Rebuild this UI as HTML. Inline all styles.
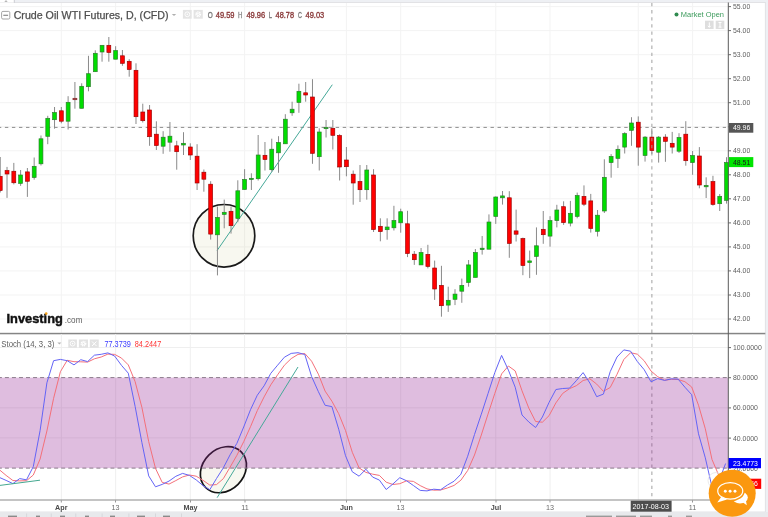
<!DOCTYPE html>
<html><head><meta charset="utf-8">
<style>
*{margin:0;padding:0;box-sizing:border-box}
html,body{width:768px;height:517px;overflow:hidden;background:#eef0f4}
body{position:relative;font-family:"Liberation Sans",sans-serif}
svg{position:absolute;left:0;top:0;will-change:transform}
.t{position:absolute;white-space:nowrap;line-height:1}
</style></head><body>
<svg width="768" height="517" viewBox="0 0 768 517">
<style>
text{font-family:"Liberation Sans",sans-serif}
.wk{stroke:#8a8a8a;stroke-width:1}
.cg{fill:#00dd00;stroke:#2a7a2a;stroke-width:0.65}
.cr{fill:#ff0000;stroke:#990000;stroke-width:0.65}
.cd{fill:#c03030;stroke:#803030;stroke-width:0.7}
.ax{font-family:"Liberation Sans",sans-serif;font-size:6.9px;fill:#5e5e5e}
</style>
<!-- backgrounds -->
<rect x="0" y="0" width="768" height="517" fill="#eef0f4"/>
<rect x="-2" y="2.5" width="767.3" height="509.5" fill="#ffffff" stroke="#dcdde0" stroke-width="0.8"/>
<rect x="0" y="0" width="14" height="2.5" fill="#ffffff"/>
<line x1="14.3" x2="14.3" y1="0" y2="2.8" stroke="#c8cacf" stroke-width="0.9"/><path d="M4.3 1.9 L7.7 1.9 L6 0 Z" fill="#b8b8b8"/>
<!-- grid -->
<g stroke="#f3f3f3" stroke-width="1"><line x1="0" x2="728" y1="319.0" y2="319.0"/><line x1="0" x2="728" y1="295.0" y2="295.0"/><line x1="0" x2="728" y1="270.9" y2="270.9"/><line x1="0" x2="728" y1="246.9" y2="246.9"/><line x1="0" x2="728" y1="222.9" y2="222.9"/><line x1="0" x2="728" y1="198.8" y2="198.8"/><line x1="0" x2="728" y1="174.8" y2="174.8"/><line x1="0" x2="728" y1="150.8" y2="150.8"/><line x1="0" x2="728" y1="126.8" y2="126.8"/><line x1="0" x2="728" y1="102.7" y2="102.7"/><line x1="0" x2="728" y1="78.7" y2="78.7"/><line x1="0" x2="728" y1="54.7" y2="54.7"/><line x1="0" x2="728" y1="30.6" y2="30.6"/><line x1="0" x2="728" y1="6.6" y2="6.6"/><line x1="61.33" x2="61.33" y1="3" y2="333"/><line x1="115.63" x2="115.63" y1="3" y2="333"/><line x1="190.3" x2="190.3" y1="3" y2="333"/><line x1="244.6" x2="244.6" y1="3" y2="333"/><line x1="346.41" x2="346.41" y1="3" y2="333"/><line x1="400.71" x2="400.71" y1="3" y2="333"/><line x1="495.74" x2="495.74" y1="3" y2="333"/><line x1="550.04" x2="550.04" y1="3" y2="333"/><line x1="638.28" x2="638.28" y1="3" y2="333"/><line x1="692.58" x2="692.58" y1="3" y2="333"/></g>
<!-- dashed price line -->
<line x1="0" x2="726" y1="127.4" y2="127.4" stroke="#8c8c8c" stroke-width="1" stroke-dasharray="3.4,3.638" stroke-dashoffset="2.14"/>
<!-- circle main -->
<ellipse cx="224" cy="235.8" rx="30.8" ry="31.3" fill="rgb(138,138,5)" fill-opacity="0.06" stroke="#1a1a1a" stroke-width="1.7"/>
<!-- trend line main -->
<line x1="217.1" y1="250.5" x2="332.3" y2="84.7" stroke="#45a898" stroke-width="1"/>
<line class="wk" x1="0.24" x2="0.24" y1="157" y2="192.5"/>
<line class="wk" x1="7.03" x2="7.03" y1="166.9" y2="197.9"/>
<line class="wk" x1="13.82" x2="13.82" y1="162.9" y2="184.4"/>
<line class="wk" x1="20.61" x2="20.61" y1="170" y2="185.9"/>
<line class="wk" x1="27.39" x2="27.39" y1="168" y2="196.9"/>
<line class="wk" x1="34.18" x2="34.18" y1="157.5" y2="179.7"/>
<line class="wk" x1="40.97" x2="40.97" y1="135.5" y2="165.5"/>
<line class="wk" x1="47.76" x2="47.76" y1="115.8" y2="144.2"/>
<line class="wk" x1="54.54" x2="54.54" y1="107" y2="128.7"/>
<line class="wk" x1="61.33" x2="61.33" y1="107" y2="123.3"/>
<line class="wk" x1="68.12" x2="68.12" y1="96.2" y2="129.5"/>
<line class="wk" x1="74.91" x2="74.91" y1="82" y2="108.7"/>
<line class="wk" x1="81.69" x2="81.69" y1="83.3" y2="108.3"/>
<line class="wk" x1="88.48" x2="88.48" y1="55.8" y2="91.3"/>
<line class="wk" x1="95.27" x2="95.27" y1="50.3" y2="71.7"/>
<line class="wk" x1="102.06" x2="102.06" y1="45.3" y2="61.7"/>
<line class="wk" x1="108.84" x2="108.84" y1="37" y2="61.7"/>
<line class="wk" x1="115.63" x2="115.63" y1="46.2" y2="59.2"/>
<line class="wk" x1="122.42" x2="122.42" y1="50" y2="65.8"/>
<line class="wk" x1="129.21" x2="129.21" y1="59.2" y2="76.7"/>
<line class="wk" x1="135.99" x2="135.99" y1="63.3" y2="124"/>
<line class="wk" x1="142.78" x2="142.78" y1="103.7" y2="122.5"/>
<line class="wk" x1="149.57" x2="149.57" y1="105" y2="145.8"/>
<line class="wk" x1="156.36" x2="156.36" y1="121.3" y2="150"/>
<line class="wk" x1="163.14" x2="163.14" y1="131.2" y2="153.8"/>
<line class="wk" x1="169.93" x2="169.93" y1="122" y2="151.7"/>
<line class="wk" x1="176.72" x2="176.72" y1="140.8" y2="169.7"/>
<line class="wk" x1="183.51" x2="183.51" y1="132.2" y2="155"/>
<line class="wk" x1="190.30" x2="190.30" y1="143.3" y2="160"/>
<line class="wk" x1="197.08" x2="197.08" y1="144.2" y2="190"/>
<line class="wk" x1="203.87" x2="203.87" y1="169.5" y2="191.7"/>
<line class="wk" x1="210.66" x2="210.66" y1="181.2" y2="239.6"/>
<line class="wk" x1="217.45" x2="217.45" y1="206.5" y2="275.4"/>
<line class="wk" x1="224.23" x2="224.23" y1="199.6" y2="228.3"/>
<line class="wk" x1="231.02" x2="231.02" y1="206.5" y2="233.6"/>
<line class="wk" x1="237.81" x2="237.81" y1="180.3" y2="222.2"/>
<line class="wk" x1="244.60" x2="244.60" y1="169.2" y2="189.5"/>
<line class="wk" x1="251.38" x2="251.38" y1="173.3" y2="190"/>
<line class="wk" x1="258.17" x2="258.17" y1="135" y2="180.5"/>
<line class="wk" x1="264.96" x2="264.96" y1="142" y2="170.5"/>
<line class="wk" x1="271.75" x2="271.75" y1="138.7" y2="171.7"/>
<line class="wk" x1="278.53" x2="278.53" y1="136.2" y2="172.8"/>
<line class="wk" x1="285.32" x2="285.32" y1="114.2" y2="143.8"/>
<line class="wk" x1="292.11" x2="292.11" y1="101.7" y2="115.8"/>
<line class="wk" x1="298.90" x2="298.90" y1="83.7" y2="112.8"/>
<line class="wk" x1="305.68" x2="305.68" y1="82" y2="101.7"/>
<line class="wk" x1="312.47" x2="312.47" y1="79.2" y2="163.8"/>
<line class="wk" x1="319.26" x2="319.26" y1="128.3" y2="170.5"/>
<line class="wk" x1="326.05" x2="326.05" y1="120" y2="137.5"/>
<line class="wk" x1="332.83" x2="332.83" y1="120" y2="149.5"/>
<line class="wk" x1="339.62" x2="339.62" y1="134.2" y2="180.5"/>
<line class="wk" x1="346.41" x2="346.41" y1="147" y2="176.3"/>
<line class="wk" x1="353.20" x2="353.20" y1="170.5" y2="204.7"/>
<line class="wk" x1="359.99" x2="359.99" y1="165" y2="202"/>
<line class="wk" x1="366.77" x2="366.77" y1="165" y2="199.7"/>
<line class="wk" x1="373.56" x2="373.56" y1="169.2" y2="232"/>
<line class="wk" x1="380.35" x2="380.35" y1="218.3" y2="241.3"/>
<line class="wk" x1="387.14" x2="387.14" y1="218.3" y2="239.7"/>
<line class="wk" x1="393.92" x2="393.92" y1="205.8" y2="230.5"/>
<line class="wk" x1="400.71" x2="400.71" y1="208.7" y2="232.7"/>
<line class="wk" x1="407.50" x2="407.50" y1="210.8" y2="257.1"/>
<line class="wk" x1="414.29" x2="414.29" y1="251" y2="264.9"/>
<line class="wk" x1="421.07" x2="421.07" y1="248" y2="264.9"/>
<line class="wk" x1="427.86" x2="427.86" y1="244.8" y2="268.4"/>
<line class="wk" x1="434.65" x2="434.65" y1="260.6" y2="299.9"/>
<line class="wk" x1="441.44" x2="441.44" y1="265.8" y2="316.7"/>
<line class="wk" x1="448.22" x2="448.22" y1="286.7" y2="311.9"/>
<line class="wk" x1="455.01" x2="455.01" y1="289.2" y2="305.1"/>
<line class="wk" x1="461.80" x2="461.80" y1="278.6" y2="302.8"/>
<line class="wk" x1="468.59" x2="468.59" y1="260" y2="286.7"/>
<line class="wk" x1="475.37" x2="475.37" y1="249" y2="277.4"/>
<line class="wk" x1="482.16" x2="482.16" y1="236" y2="254.6"/>
<line class="wk" x1="488.95" x2="488.95" y1="214.4" y2="249.2"/>
<line class="wk" x1="495.74" x2="495.74" y1="196.4" y2="223.9"/>
<line class="wk" x1="502.52" x2="502.52" y1="191" y2="204.6"/>
<line class="wk" x1="509.31" x2="509.31" y1="191.2" y2="257.8"/>
<line class="wk" x1="516.10" x2="516.10" y1="209.6" y2="241.5"/>
<line class="wk" x1="522.89" x2="522.89" y1="237.6" y2="275.2"/>
<line class="wk" x1="529.68" x2="529.68" y1="250.6" y2="278.1"/>
<line class="wk" x1="536.46" x2="536.46" y1="227.4" y2="274.8"/>
<line class="wk" x1="543.25" x2="543.25" y1="211" y2="243.8"/>
<line class="wk" x1="550.04" x2="550.04" y1="216.2" y2="246.7"/>
<line class="wk" x1="556.83" x2="556.83" y1="204.8" y2="227.4"/>
<line class="wk" x1="563.61" x2="563.61" y1="201.3" y2="224.9"/>
<line class="wk" x1="570.40" x2="570.40" y1="200.9" y2="226.4"/>
<line class="wk" x1="577.19" x2="577.19" y1="192.6" y2="218.3"/>
<line class="wk" x1="583.98" x2="583.98" y1="185.4" y2="206.1"/>
<line class="wk" x1="590.76" x2="590.76" y1="193.9" y2="232.6"/>
<line class="wk" x1="597.55" x2="597.55" y1="210" y2="236.5"/>
<line class="wk" x1="604.34" x2="604.34" y1="159.3" y2="213"/>
<line class="wk" x1="611.13" x2="611.13" y1="154.1" y2="177.7"/>
<line class="wk" x1="617.91" x2="617.91" y1="145.4" y2="168"/>
<line class="wk" x1="624.70" x2="624.70" y1="132.2" y2="153.5"/>
<line class="wk" x1="631.49" x2="631.49" y1="117.2" y2="145.8"/>
<line class="wk" x1="638.28" x2="638.28" y1="116.4" y2="165.7"/>
<line class="wk" x1="645.06" x2="645.06" y1="136.1" y2="161.6"/>
<line class="wk" x1="651.85" x2="651.85" y1="128.4" y2="154.1"/>
<line class="wk" x1="658.64" x2="658.64" y1="136.1" y2="162.6"/>
<line class="wk" x1="665.43" x2="665.43" y1="134.2" y2="161.8"/>
<line class="wk" x1="672.21" x2="672.21" y1="131.9" y2="153.5"/>
<line class="wk" x1="679.00" x2="679.00" y1="133.2" y2="152.9"/>
<line class="wk" x1="685.79" x2="685.79" y1="121.2" y2="165.7"/>
<line class="wk" x1="692.58" x2="692.58" y1="151" y2="174.8"/>
<line class="wk" x1="699.37" x2="699.37" y1="147.1" y2="188.3"/>
<line class="wk" x1="706.15" x2="706.15" y1="177.3" y2="198"/>
<line class="wk" x1="712.94" x2="712.94" y1="175.8" y2="205.7"/>
<line class="wk" x1="719.73" x2="719.73" y1="194" y2="211"/>
<line class="wk" x1="726.52" x2="726.52" y1="157.2" y2="203.6"/>
<rect class="cr" x="-1.71" y="176.3" width="3.9" height="14.30"/>
<rect class="cr" x="5.08" y="170.6" width="3.9" height="3.40"/>
<rect class="cr" x="11.87" y="171.25" width="3.9" height="11.50"/>
<rect class="cg" x="18.66" y="175" width="3.9" height="8.40"/>
<rect class="cr" x="25.44" y="171.9" width="3.9" height="9.35"/>
<rect class="cg" x="32.23" y="166.3" width="3.9" height="11.20"/>
<rect class="cg" x="39.02" y="138.8" width="3.9" height="25.00"/>
<rect class="cg" x="45.81" y="118.3" width="3.9" height="18.00"/>
<rect class="cg" x="52.59" y="112.5" width="3.9" height="7.20"/>
<rect class="cr" x="59.38" y="110.8" width="3.9" height="10.40"/>
<rect class="cg" x="66.17" y="102.3" width="3.9" height="18.90"/>
<rect class="cd" x="72.96" y="98.3" width="3.9" height="1.40"/>
<rect class="cg" x="79.74" y="86.3" width="3.9" height="22.00"/>
<rect class="cg" x="86.53" y="73.7" width="3.9" height="13.00"/>
<rect class="cg" x="93.32" y="53.3" width="3.9" height="18.40"/>
<rect class="cg" x="100.11" y="45.3" width="3.9" height="6.70"/>
<rect class="cr" x="106.89" y="45.3" width="3.9" height="7.20"/>
<rect class="cg" x="113.68" y="50.5" width="3.9" height="8.70"/>
<rect class="cr" x="120.47" y="55.8" width="3.9" height="7.50"/>
<rect class="cr" x="127.26" y="61.3" width="3.9" height="8.20"/>
<rect class="cr" x="134.04" y="70.3" width="3.9" height="46.40"/>
<rect class="cr" x="140.83" y="112" width="3.9" height="8.70"/>
<rect class="cr" x="147.62" y="110" width="3.9" height="26.70"/>
<rect class="cr" x="154.41" y="134.2" width="3.9" height="11.30"/>
<rect class="cg" x="161.19" y="137.2" width="3.9" height="9.00"/>
<rect class="cg" x="167.98" y="136.2" width="3.9" height="6.00"/>
<rect class="cr" x="174.77" y="145.8" width="3.9" height="5.90"/>
<rect class="cg" x="181.56" y="143.3" width="3.9" height="1.70"/>
<rect class="cr" x="188.35" y="147" width="3.9" height="8.00"/>
<rect class="cr" x="195.13" y="156.2" width="3.9" height="26.80"/>
<rect class="cr" x="201.92" y="172.2" width="3.9" height="7.00"/>
<rect class="cr" x="208.71" y="184.2" width="3.9" height="49.90"/>
<rect class="cg" x="215.50" y="217.4" width="3.9" height="17.40"/>
<rect class="cg" x="222.28" y="212.3" width="3.9" height="2.10"/>
<rect class="cr" x="229.07" y="211.3" width="3.9" height="14.40"/>
<rect class="cg" x="235.86" y="190.8" width="3.9" height="27.60"/>
<rect class="cg" x="242.65" y="179.4" width="3.9" height="10.10"/>
<rect class="cg" x="249.43" y="178.3" width="3.9" height="1.20"/>
<rect class="cg" x="256.22" y="155" width="3.9" height="23.70"/>
<rect class="cr" x="263.01" y="155.3" width="3.9" height="4.20"/>
<rect class="cg" x="269.80" y="149.2" width="3.9" height="20.50"/>
<rect class="cg" x="276.58" y="142.5" width="3.9" height="10.30"/>
<rect class="cg" x="283.37" y="119.2" width="3.9" height="24.60"/>
<rect class="cg" x="290.16" y="109.2" width="3.9" height="3.60"/>
<rect class="cg" x="296.95" y="91.3" width="3.9" height="11.20"/>
<rect class="cr" x="303.73" y="92.8" width="3.9" height="2.20"/>
<rect class="cr" x="310.52" y="97" width="3.9" height="56.30"/>
<rect class="cg" x="317.31" y="132" width="3.9" height="24.70"/>
<rect class="cg" x="324.10" y="127.5" width="3.9" height="1.20"/>
<rect class="cr" x="330.88" y="128.3" width="3.9" height="7.00"/>
<rect class="cr" x="337.67" y="135.5" width="3.9" height="31.50"/>
<rect class="cr" x="344.46" y="160" width="3.9" height="6.70"/>
<rect class="cr" x="351.25" y="174.2" width="3.9" height="8.80"/>
<rect class="cr" x="358.04" y="181.5" width="3.9" height="8.20"/>
<rect class="cg" x="364.82" y="170" width="3.9" height="19.70"/>
<rect class="cr" x="371.61" y="175" width="3.9" height="54.50"/>
<rect class="cr" x="378.40" y="226.3" width="3.9" height="5.30"/>
<rect class="cg" x="385.19" y="227" width="3.9" height="2.70"/>
<rect class="cg" x="391.97" y="220.5" width="3.9" height="7.30"/>
<rect class="cg" x="398.76" y="211.7" width="3.9" height="11.10"/>
<rect class="cr" x="405.55" y="223.8" width="3.9" height="29.70"/>
<rect class="cr" x="412.34" y="254.2" width="3.9" height="5.50"/>
<rect class="cg" x="419.12" y="252.5" width="3.9" height="12.40"/>
<rect class="cr" x="425.91" y="254.4" width="3.9" height="12.00"/>
<rect class="cr" x="432.70" y="268" width="3.9" height="21.00"/>
<rect class="cr" x="439.49" y="285.4" width="3.9" height="20.30"/>
<rect class="cg" x="446.27" y="300.3" width="3.9" height="4.80"/>
<rect class="cg" x="453.06" y="294.1" width="3.9" height="5.20"/>
<rect class="cg" x="459.85" y="285.4" width="3.9" height="5.80"/>
<rect class="cg" x="466.64" y="264.9" width="3.9" height="17.60"/>
<rect class="cg" x="473.42" y="252.5" width="3.9" height="24.90"/>
<rect class="cg" x="480.21" y="248.2" width="3.9" height="1.40"/>
<rect class="cg" x="487.00" y="222" width="3.9" height="27.20"/>
<rect class="cg" x="493.79" y="197" width="3.9" height="19.40"/>
<rect class="cg" x="500.57" y="195.9" width="3.9" height="1.90"/>
<rect class="cr" x="507.36" y="197.8" width="3.9" height="45.60"/>
<rect class="cr" x="514.15" y="230.9" width="3.9" height="3.30"/>
<rect class="cr" x="520.94" y="238.6" width="3.9" height="26.90"/>
<rect class="cg" x="527.73" y="260.9" width="3.9" height="1.70"/>
<rect class="cg" x="534.51" y="245.8" width="3.9" height="10.60"/>
<rect class="cr" x="541.30" y="229.3" width="3.9" height="5.40"/>
<rect class="cg" x="548.09" y="220.6" width="3.9" height="15.50"/>
<rect class="cg" x="554.88" y="210" width="3.9" height="10.60"/>
<rect class="cr" x="561.66" y="206.7" width="3.9" height="15.90"/>
<rect class="cg" x="568.45" y="213.3" width="3.9" height="9.80"/>
<rect class="cg" x="575.24" y="195.5" width="3.9" height="20.90"/>
<rect class="cr" x="582.03" y="196.4" width="3.9" height="7.80"/>
<rect class="cr" x="588.81" y="200.9" width="3.9" height="27.50"/>
<rect class="cg" x="595.60" y="215.2" width="3.9" height="16.10"/>
<rect class="cg" x="602.39" y="177.3" width="3.9" height="33.70"/>
<rect class="cg" x="609.18" y="156.4" width="3.9" height="6.20"/>
<rect class="cg" x="615.96" y="149.3" width="3.9" height="9.10"/>
<rect class="cg" x="622.75" y="133.6" width="3.9" height="13.50"/>
<rect class="cg" x="629.54" y="123" width="3.9" height="7.30"/>
<rect class="cr" x="636.33" y="122.2" width="3.9" height="24.90"/>
<rect class="cg" x="643.11" y="137.1" width="3.9" height="18.40"/>
<rect class="cr" x="649.90" y="137.1" width="3.9" height="13.50"/>
<rect class="cg" x="656.69" y="137.1" width="3.9" height="15.10"/>
<rect class="cr" x="663.48" y="137.1" width="3.9" height="4.20"/>
<rect class="cr" x="670.26" y="143.3" width="3.9" height="3.80"/>
<rect class="cg" x="677.05" y="137.5" width="3.9" height="13.70"/>
<rect class="cr" x="683.84" y="134.2" width="3.9" height="26.50"/>
<rect class="cg" x="690.63" y="155.5" width="3.9" height="7.10"/>
<rect class="cr" x="697.42" y="156" width="3.9" height="29.00"/>
<rect class="cg" x="704.20" y="185.4" width="3.9" height="1.40"/>
<rect class="cr" x="710.99" y="181.6" width="3.9" height="22.80"/>
<rect class="cg" x="717.78" y="196.3" width="3.9" height="7.40"/>
<rect class="cg" x="724.57" y="162.5" width="3.9" height="37.90"/>
<!-- crosshair vertical -->
<line x1="651.85" x2="651.85" y1="3" y2="500" stroke="#9c9c9c" stroke-opacity="0.8" stroke-width="1.2" stroke-dasharray="3.3,3.8"/>
<!-- separator -->
<rect x="0" y="332.8" width="765.3" height="1.5" fill="#858585"/>
<!-- stoch band -->
<g stroke="#efefef" stroke-width="1"><line x1="0" x2="728" y1="347.5" y2="347.5"/><line x1="0" x2="728" y1="407.8" y2="407.8"/><line x1="0" x2="728" y1="437.9" y2="437.9"/><line x1="61.33" x2="61.33" y1="334" y2="500"/><line x1="115.63" x2="115.63" y1="334" y2="500"/><line x1="190.3" x2="190.3" y1="334" y2="500"/><line x1="244.6" x2="244.6" y1="334" y2="500"/><line x1="346.41" x2="346.41" y1="334" y2="500"/><line x1="400.71" x2="400.71" y1="334" y2="500"/><line x1="495.74" x2="495.74" y1="334" y2="500"/><line x1="550.04" x2="550.04" y1="334" y2="500"/><line x1="638.28" x2="638.28" y1="334" y2="500"/><line x1="692.58" x2="692.58" y1="334" y2="500"/></g>
<ellipse cx="223.4" cy="469.7" rx="25.2" ry="20.7" transform="rotate(-45 223.4 469.7)" fill="rgb(138,138,5)" fill-opacity="0.06" stroke="#141414" stroke-width="1.7"/>
<rect x="0" y="377.6" width="728" height="90.5" fill="rgb(148,38,148)" fill-opacity="0.3"/>
<line x1="0" x2="728" y1="377.6" y2="377.6" stroke="#8a7a8a" stroke-width="1" stroke-dasharray="4,3.038" stroke-dashoffset="2.14"/>
<line x1="0" x2="728" y1="468.1" y2="468.1" stroke="#8a7a8a" stroke-width="1" stroke-dasharray="4,3.038" stroke-dashoffset="2.14"/>
<!-- ellipse stoch -->

<polyline points="-0.7,469.7 6.1,475.4 12.9,480.5 19.7,480.9 26.5,480.7 33.3,475.0 40.1,459.0 46.9,431.0 53.6,398.3 60.4,371.7 67.2,360.3 74.0,361.7 80.8,361.8 87.6,362.1 94.4,358.8 101.2,357.0 107.9,354.1 114.7,354.4 121.5,358.1 128.3,364.9 135.1,381.6 141.9,407.4 148.7,441.6 155.5,468.4 162.2,482.4 169.0,484.1 175.8,480.6 182.6,476.9 189.4,475.0 196.2,476.2 203.0,480.3 209.8,485.1 216.5,484.6 223.3,478.7 230.1,467.1 236.9,455.3 243.7,441.7 250.5,426.7 257.3,410.6 264.1,396.9 270.8,384.8 277.6,374.8 284.4,365.2 291.2,358.6 298.0,354.4 304.8,353.5 311.6,361.2 318.4,374.2 325.1,391.1 331.9,401.2 338.7,413.7 345.5,430.5 352.3,452.3 359.1,467.9 365.9,472.4 372.7,474.2 379.4,475.4 386.2,482.2 393.0,484.5 399.8,483.7 406.6,480.8 413.4,481.4 420.2,485.6 427.0,488.9 433.7,490.2 440.5,490.0 447.3,488.0 454.1,485.4 460.9,480.2 467.7,470.5 474.5,455.0 481.3,435.0 488.0,414.1 494.8,393.4 501.6,373.9 508.4,366.0 515.2,370.9 522.0,390.8 528.8,408.1 535.6,421.5 542.4,422.2 549.1,415.6 555.9,402.9 562.7,393.4 569.5,388.7 576.3,385.7 583.1,380.5 589.9,378.8 596.7,384.1 603.4,391.3 610.2,387.5 617.0,374.3 623.8,359.5 630.6,352.7 637.4,354.2 644.2,360.8 651.0,371.0 657.7,376.7 664.5,380.3 671.3,379.3 678.1,379.5 684.9,381.7 691.7,387.0 698.5,405.2 705.3,428.8 712.0,459.5 718.8,475.4 725.6,477.3" fill="none" stroke="#f4707a" stroke-width="1"/>
<polyline points="-0.7,477.4 6.1,480.4 12.9,483.6 19.7,478.6 26.5,479.8 33.3,466.6 40.1,430.5 46.9,382.8 53.6,360.7 60.4,359.4 67.2,360.7 74.0,364.9 80.8,359.7 87.6,361.6 94.4,355.2 101.2,354.3 107.9,352.9 114.7,356.1 121.5,365.4 128.3,373.2 135.1,406.3 141.9,442.6 148.7,475.9 155.5,486.8 162.2,484.4 169.0,481.1 175.8,476.3 182.6,473.4 189.4,475.4 196.2,479.9 203.0,485.6 209.8,489.7 216.5,478.5 223.3,467.9 230.1,454.8 236.9,443.3 243.7,427.0 250.5,409.7 257.3,395.2 264.1,385.8 270.8,373.3 277.6,365.2 284.4,357.2 291.2,353.4 298.0,352.7 304.8,354.5 311.6,376.5 318.4,391.7 325.1,405.3 331.9,406.6 338.7,429.2 345.5,455.7 352.3,471.8 359.1,476.2 365.9,469.2 372.7,477.1 379.4,480.1 386.2,489.5 393.0,483.9 399.8,477.7 406.6,480.8 413.4,485.5 420.2,490.4 427.0,490.9 433.7,489.2 440.5,489.8 447.3,485.1 454.1,481.2 460.9,474.2 467.7,456.2 474.5,434.5 481.3,414.2 488.0,393.6 494.8,372.6 501.6,355.4 508.4,370.1 515.2,387.2 522.0,415.0 528.8,422.0 535.6,427.5 542.4,417.0 549.1,402.3 555.9,389.5 562.7,388.5 569.5,388.1 576.3,380.7 583.1,372.6 589.9,383.1 596.7,396.7 603.4,394.1 610.2,371.7 617.0,357.0 623.8,349.9 630.6,351.2 637.4,361.6 644.2,369.7 651.0,381.8 657.7,378.6 664.5,380.4 671.3,378.9 678.1,379.1 684.9,387.2 691.7,394.7 698.5,433.8 705.3,457.8 712.0,487.0 718.8,481.5 725.6,463.5" fill="none" stroke="#6464f6" stroke-width="1"/>
<line x1="217.1" y1="497.7" x2="298" y2="367" stroke="#45a898" stroke-width="1"/>
<line x1="0" y1="485.4" x2="40" y2="480.2" stroke="#45a890" stroke-width="1"/>
<!-- axes -->
<line x1="728.3" x2="728.3" y1="2.5" y2="512" stroke="#5a5a5a" stroke-width="1"/>
<line x1="0" x2="728.3" y1="500" y2="500" stroke="#8a8a8a" stroke-width="1.2"/>
<line x1="728.3" x2="731" y1="319.0" y2="319.0" stroke="#5a5a5a" stroke-width="0.9"/>
<text class="ax" x="733" y="321.4">42.00</text>
<line x1="728.3" x2="731" y1="295.0" y2="295.0" stroke="#5a5a5a" stroke-width="0.9"/>
<text class="ax" x="733" y="297.4">43.00</text>
<line x1="728.3" x2="731" y1="270.9" y2="270.9" stroke="#5a5a5a" stroke-width="0.9"/>
<text class="ax" x="733" y="273.3">44.00</text>
<line x1="728.3" x2="731" y1="246.9" y2="246.9" stroke="#5a5a5a" stroke-width="0.9"/>
<text class="ax" x="733" y="249.3">45.00</text>
<line x1="728.3" x2="731" y1="222.9" y2="222.9" stroke="#5a5a5a" stroke-width="0.9"/>
<text class="ax" x="733" y="225.3">46.00</text>
<line x1="728.3" x2="731" y1="198.8" y2="198.8" stroke="#5a5a5a" stroke-width="0.9"/>
<text class="ax" x="733" y="201.2">47.00</text>
<line x1="728.3" x2="731" y1="174.8" y2="174.8" stroke="#5a5a5a" stroke-width="0.9"/>
<text class="ax" x="733" y="177.2">48.00</text>
<line x1="728.3" x2="731" y1="150.8" y2="150.8" stroke="#5a5a5a" stroke-width="0.9"/>
<text class="ax" x="733" y="153.2">49.00</text>
<line x1="728.3" x2="731" y1="126.8" y2="126.8" stroke="#5a5a5a" stroke-width="0.9"/>
<line x1="728.3" x2="731" y1="102.7" y2="102.7" stroke="#5a5a5a" stroke-width="0.9"/>
<text class="ax" x="733" y="105.1">51.00</text>
<line x1="728.3" x2="731" y1="78.7" y2="78.7" stroke="#5a5a5a" stroke-width="0.9"/>
<text class="ax" x="733" y="81.1">52.00</text>
<line x1="728.3" x2="731" y1="54.7" y2="54.7" stroke="#5a5a5a" stroke-width="0.9"/>
<text class="ax" x="733" y="57.1">53.00</text>
<line x1="728.3" x2="731" y1="30.6" y2="30.6" stroke="#5a5a5a" stroke-width="0.9"/>
<text class="ax" x="733" y="33.0">54.00</text>
<line x1="728.3" x2="731" y1="6.6" y2="6.6" stroke="#5a5a5a" stroke-width="0.9"/>
<text class="ax" x="733" y="9.0">55.00</text>
<line x1="728.3" x2="731" y1="347.6" y2="347.6" stroke="#5a5a5a" stroke-width="0.9"/>
<text class="ax" x="733" y="350.0">100.0000</text>
<line x1="728.3" x2="731" y1="377.7" y2="377.7" stroke="#5a5a5a" stroke-width="0.9"/>
<text class="ax" x="733" y="380.1">80.0000</text>
<line x1="728.3" x2="731" y1="407.9" y2="407.9" stroke="#5a5a5a" stroke-width="0.9"/>
<text class="ax" x="733" y="410.3">60.0000</text>
<line x1="728.3" x2="731" y1="438.1" y2="438.1" stroke="#5a5a5a" stroke-width="0.9"/>
<text class="ax" x="733" y="440.5">40.0000</text>
<line x1="728.3" x2="731" y1="468.2" y2="468.2" stroke="#5a5a5a" stroke-width="0.9"/>
<text class="ax" x="733" y="470.6">20.0000</text>
<line x1="61.3" x2="61.3" y1="500.3" y2="502.5" stroke="#8a8a8a" stroke-width="0.9"/>
<text x="61.3" y="509.6" text-anchor="middle" style="font-size:7.2px;font-weight:bold" fill="#4a4a4a">Apr</text>
<line x1="115.5" x2="115.5" y1="500.3" y2="502.5" stroke="#8a8a8a" stroke-width="0.9"/>
<text x="115.5" y="509.6" text-anchor="middle" style="font-size:7.2px;font-weight:normal" fill="#6a6a6a">13</text>
<line x1="190.5" x2="190.5" y1="500.3" y2="502.5" stroke="#8a8a8a" stroke-width="0.9"/>
<text x="190.5" y="509.6" text-anchor="middle" style="font-size:7.2px;font-weight:bold" fill="#4a4a4a">May</text>
<line x1="245" x2="245" y1="500.3" y2="502.5" stroke="#8a8a8a" stroke-width="0.9"/>
<text x="245" y="509.6" text-anchor="middle" style="font-size:7.2px;font-weight:normal" fill="#6a6a6a">11</text>
<line x1="346.5" x2="346.5" y1="500.3" y2="502.5" stroke="#8a8a8a" stroke-width="0.9"/>
<text x="346.5" y="509.6" text-anchor="middle" style="font-size:7.2px;font-weight:bold" fill="#4a4a4a">Jun</text>
<line x1="400.5" x2="400.5" y1="500.3" y2="502.5" stroke="#8a8a8a" stroke-width="0.9"/>
<text x="400.5" y="509.6" text-anchor="middle" style="font-size:7.2px;font-weight:normal" fill="#6a6a6a">13</text>
<line x1="496" x2="496" y1="500.3" y2="502.5" stroke="#8a8a8a" stroke-width="0.9"/>
<text x="496" y="509.6" text-anchor="middle" style="font-size:7.2px;font-weight:bold" fill="#4a4a4a">Jul</text>
<line x1="550" x2="550" y1="500.3" y2="502.5" stroke="#8a8a8a" stroke-width="0.9"/>
<text x="550" y="509.6" text-anchor="middle" style="font-size:7.2px;font-weight:normal" fill="#6a6a6a">13</text>
<line x1="692.5" x2="692.5" y1="500.3" y2="502.5" stroke="#8a8a8a" stroke-width="0.9"/>
<text x="692.5" y="509.6" text-anchor="middle" style="font-size:7.2px;font-weight:normal" fill="#6a6a6a">11</text>
<!-- price labels boxes -->
<rect x="729" y="123" width="24.3" height="9.7" fill="#555555"/>
<text x="733" y="130.4" style="font-size:6.9px" fill="#ffffff">49.96</text>
<rect x="729" y="157.1" width="24.3" height="10" fill="#00e400"/>
<text x="733" y="164.6" style="font-size:6.9px" fill="#1a1a1a">48.51</text>
<rect x="728.6" y="458" width="32.4" height="10.2" fill="#0000ff"/>
<text x="733" y="465.9" style="font-size:6.9px" fill="#ffffff">23.4773</text>
<rect x="729" y="478.7" width="32.2" height="10.2" fill="#ff0000"/>
<text x="733" y="486.2" style="font-size:6.9px" fill="#ffffff">13.6156</text>
<rect x="630.7" y="500.7" width="40.9" height="11" fill="#4d4d4d"/>
<text x="632.6" y="509.2" style="font-size:7.1px" fill="#ffffff" textLength="36.4" lengthAdjust="spacingAndGlyphs">2017-08-03</text>
<!-- bottom toolbar -->
<rect x="0" y="512" width="768" height="5" fill="#e8e9ec"/><rect x="26.3" y="513.5" width="0.8" height="3.5" fill="#d2d3d7"/><rect x="50.8" y="513.5" width="0.8" height="3.5" fill="#d2d3d7"/><rect x="75.4" y="513.5" width="0.8" height="3.5" fill="#d2d3d7"/><rect x="101.7" y="513.5" width="0.8" height="3.5" fill="#d2d3d7"/><rect x="128.5" y="513.5" width="0.8" height="3.5" fill="#d2d3d7"/><rect x="155.0" y="513.5" width="0.8" height="3.5" fill="#d2d3d7"/><rect x="181.0" y="513.5" width="0.8" height="3.5" fill="#d2d3d7"/><rect x="8" y="515.6" width="9.0" height="1.4" fill="#8a8a8a"/><rect x="36" y="515.6" width="4.0" height="1.4" fill="#8a8a8a"/><rect x="60" y="515.6" width="5.0" height="1.4" fill="#8a8a8a"/><rect x="85" y="515.6" width="4.0" height="1.4" fill="#8a8a8a"/><rect x="110" y="515.6" width="5.0" height="1.4" fill="#8a8a8a"/><rect x="137" y="515.6" width="8.0" height="1.4" fill="#8a8a8a"/><rect x="163" y="515.6" width="7.0" height="1.4" fill="#8a8a8a"/><rect x="586" y="515.6" width="26.0" height="1.4" fill="#9a9a9a"/><rect x="616" y="515.6" width="20.0" height="1.4" fill="#9a9a9a"/><rect x="640" y="515.6" width="12.0" height="1.4" fill="#9a9a9a"/><rect x="668" y="515.6" width="4.0" height="1.4" fill="#9a9a9a"/><rect x="686" y="515.6" width="6.0" height="1.4" fill="#9a9a9a"/>
<!-- chat button -->
<circle cx="716" cy="480.5" r="8" fill="none" stroke="#e4e4e4" stroke-width="0.8"/>
<circle cx="732.2" cy="493.3" r="23.5" fill="#fb980f"/>
<ellipse cx="740" cy="497.5" rx="7.8" ry="6" fill="#fff"/>
<path d="M741 501 L746.8 505.2 L745.5 498.5 Z" fill="#fff"/>
<ellipse cx="730.25" cy="490.9" rx="13.1" ry="8.9" fill="#fb980f" stroke="#fb980f" stroke-width="3"/>
<path d="M721.3 496.8 L717.3 502.6 L727 499.6 Z" fill="#fff"/>
<ellipse cx="730.25" cy="490.9" rx="12.5" ry="8.3" fill="#fb980f" stroke="#fff" stroke-width="1.2"/>
<circle cx="725.3" cy="491.3" r="1.45" fill="#fff"/><circle cx="730.1" cy="491.3" r="1.45" fill="#fff"/><circle cx="735.0" cy="491.3" r="1.45" fill="#fff"/>
<rect x="1.6" y="11.4" width="8.2" height="7.6" rx="1.3" fill="#fff" stroke="#9a9a9a" stroke-width="0.9"/><rect x="3.3" y="14.7" width="4.8" height="1.2" fill="#8a8a8a"/><text x="13.7" y="18.9" text-anchor="start" style="font-size:10.6px;stroke:#4f4f4f;stroke-width:0.25px;" fill="#4f4f4f" textLength="154.9" lengthAdjust="spacingAndGlyphs">Crude Oil WTI Futures, D, (CFD)</text><path d="M171.8 13.9 L176.2 13.9 L174 16 Z" fill="#b0b0b0"/><rect x="182.9" y="9.9" width="8.8" height="8.8" fill="#e4e4e4"/><rect x="193.6" y="9.9" width="9.2" height="8.8" fill="#e4e4e4"/><circle cx="187.3" cy="14.3" r="2.4" fill="none" stroke="#fff" stroke-width="0.9"/><circle cx="187.3" cy="14.3" r="0.8" fill="#fff"/><circle cx="198.2" cy="14.3" r="2.2" fill="none" stroke="#fff" stroke-width="1.5" stroke-dasharray="1.1,0.6"/><circle cx="198.2" cy="14.3" r="1.6" fill="#fff"/><circle cx="198.2" cy="14.3" r="0.8" fill="#e4e4e4"/><text x="207.8" y="18.2" text-anchor="start" style="font-size:8.4px;stroke:#7a7a7a;stroke-width:0.35px;" fill="#7a7a7a" textLength="5.0" lengthAdjust="spacingAndGlyphs">O</text><text x="215.8" y="18.2" text-anchor="start" style="font-size:8.4px;stroke:#8a3a3a;stroke-width:0.35px;" fill="#8a3a3a" textLength="18.7" lengthAdjust="spacingAndGlyphs">49.59</text><text x="238.1" y="18.2" text-anchor="start" style="font-size:8.4px;stroke:#8a8a8a;stroke-width:0.35px;" fill="#8a8a8a" textLength="4.4" lengthAdjust="spacingAndGlyphs">H</text><text x="246.4" y="18.2" text-anchor="start" style="font-size:8.4px;stroke:#8a3a3a;stroke-width:0.35px;" fill="#8a3a3a" textLength="18.8" lengthAdjust="spacingAndGlyphs">49.96</text><text x="268.8" y="18.2" text-anchor="start" style="font-size:8.4px;stroke:#7a7a7a;stroke-width:0.35px;" fill="#7a7a7a" textLength="3.2" lengthAdjust="spacingAndGlyphs">L</text><text x="275.6" y="18.2" text-anchor="start" style="font-size:8.4px;stroke:#8a3a3a;stroke-width:0.35px;" fill="#8a3a3a" textLength="18.4" lengthAdjust="spacingAndGlyphs">48.78</text><text x="298" y="18.2" text-anchor="start" style="font-size:8.4px;stroke:#7a7a7a;stroke-width:0.35px;" fill="#7a7a7a" textLength="3.9" lengthAdjust="spacingAndGlyphs">C</text><text x="305.5" y="18.2" text-anchor="start" style="font-size:8.4px;stroke:#8a3a3a;stroke-width:0.35px;" fill="#8a3a3a" textLength="18.7" lengthAdjust="spacingAndGlyphs">49.03</text><circle cx="676.5" cy="14.6" r="2" fill="#2f8a4f"/><text x="680.8" y="17.1" text-anchor="start" style="font-size:7.4px;" fill="#3a9a5a" textLength="43.2" lengthAdjust="spacingAndGlyphs">Market Open</text><rect x="705" y="20.7" width="8.6" height="8.3" fill="#dedede"/><rect x="715.7" y="20.7" width="8.6" height="8.3" fill="#dedede"/><path d="M709.3 22.3 V27.3 M707.8 25.8 L709.3 27.3 L710.8 25.8" stroke="#fff" stroke-width="1" fill="none"/><path d="M720 22.3 V27.3 M718.5 22.5 H721.5 M718.5 27.1 H721.5" stroke="#fff" stroke-width="1" fill="none"/><text x="6.5" y="323.1" text-anchor="start" style="font-size:12.6px;font-weight:bold;stroke:#111;stroke-width:0.45px;" fill="#111111" textLength="56.4" lengthAdjust="spacingAndGlyphs">Investing</text><circle cx="46.2" cy="313.6" r="1.3" fill="#f7a21b"/><text x="64.8" y="323.4" text-anchor="start" style="font-size:8.4px;" fill="#606060" textLength="17.6" lengthAdjust="spacingAndGlyphs">.com</text><text x="1.3" y="346.6" text-anchor="start" style="font-size:8.7px;" fill="#606060" textLength="53.1" lengthAdjust="spacingAndGlyphs">Stoch (14, 3, 3)</text><path d="M57.4 342.6 L61.4 342.6 L59.4 344.6 Z" fill="#b4b4b4"/><rect x="68.3" y="339.5" width="8.60" height="8.25" fill="#e2e2e2"/><rect x="78.9" y="339.5" width="9.10" height="8.25" fill="#e2e2e2"/><rect x="89.8" y="339.5" width="8.95" height="8.25" fill="#e2e2e2"/><circle cx="72.6" cy="343.6" r="2.4" fill="none" stroke="#fff" stroke-width="0.9"/><circle cx="72.6" cy="343.6" r="0.8" fill="#fff"/><circle cx="83.45" cy="343.6" r="2.2" fill="none" stroke="#fff" stroke-width="1.5" stroke-dasharray="1.1,0.6"/><circle cx="83.45" cy="343.6" r="1.6" fill="#fff"/><circle cx="83.45" cy="343.6" r="0.8" fill="#e2e2e2"/><path d="M92 341.5 L96.5 346 M96.5 341.5 L92 346" stroke="#fff" stroke-width="1"/><text x="104.4" y="346.8" text-anchor="start" style="font-size:8.2px;" fill="#3c3cff" textLength="26.5" lengthAdjust="spacingAndGlyphs">77.3739</text><text x="134.8" y="346.8" text-anchor="start" style="font-size:8.2px;" fill="#ff3333" textLength="26.4" lengthAdjust="spacingAndGlyphs">84.2447</text></svg>
</body></html>
